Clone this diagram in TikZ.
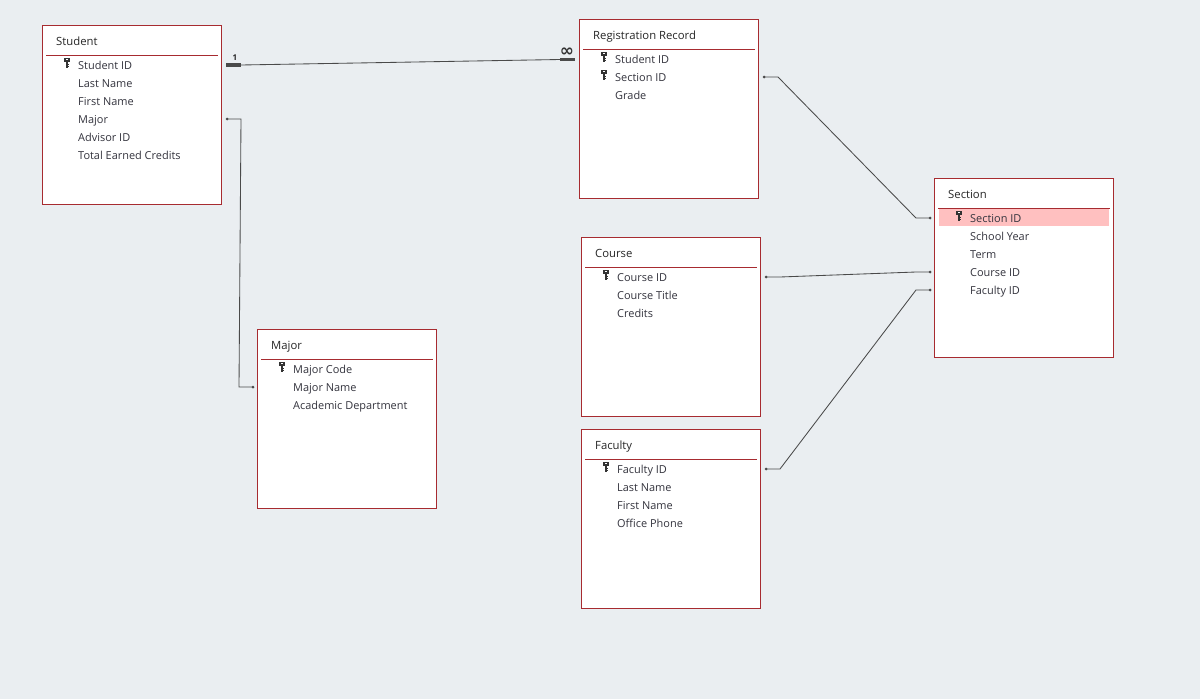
\documentclass[tikz,border=0pt]{standalone}
\usepackage{fontspec}
\setmainfont{Open Sans}
\newfontfamily\symfont{DejaVu Sans}
\definecolor{bgc}{HTML}{EAEEF1}
\definecolor{redc}{HTML}{A72B30}
\definecolor{txtc}{HTML}{33333D}
\definecolor{hilite}{HTML}{FFC0C0}
\definecolor{linec}{HTML}{4A4A4A}
\newcommand{\tablebox}[3]{% name, left x, top y
  \node[tablebody,anchor=north west] (#1) at (#2,#3) {};
}
\newcommand{\titleof}[4]{% name, x, y, text
  \node[titletext] (#1title) at (#2+13.5,#3+19.5) {#4};
  \draw[rulel] (#2+3.5,#3+30) -- (#2+175.5,#3+30);
}
\newcommand{\fieldof}[5]{% name, x, y, row, text
  \node[fieldtext] (#1) at (#2+36,#3+43.5+18*#4) {#5};
}
\newcommand{\keyof}[3]{% x, y (box), row
  \pic at (#1+25,#2+39+18*#3) {keyicon};
}
\tikzset{
  x=1pt,y=-1pt,
  tablebody/.style={draw=redc,fill=white,line width=1pt,minimum width=179pt,minimum height=179pt,inner sep=0pt,outer sep=0pt},
  titletext/.style={anchor=base west,font=\fontsize{11.3}{13}\selectfont,text=black!85,inner sep=0pt},
  fieldtext/.style={anchor=base west,font=\fontsize{10.95}{13}\selectfont,text=txtc,inner sep=0pt},
  rulel/.style={draw=redc,line width=0.9pt},
  conn/.style={draw=linec,line width=0.85pt},
  endtick/.style={fill=linec,circle,inner sep=0pt,minimum size=3pt},
  thickbar/.style={draw=linec,line width=3.4pt},
  keyicon/.pic={
    \fill[black!80] (-2.6,-6.5) rectangle (2.6,-2.5);
    \fill[black!80] (-1.1,-2.5) rectangle (1.1,3.5);
    \fill[black!80] (1.1,-1) rectangle (2.4,0);
    \fill[black!80] (1.1,1.2) rectangle (2.4,2.2);
    \fill[white] (-0.8,-5.6) rectangle (0.8,-4.6);
  },
}
\begin{document}
\begin{tikzpicture}
\useasboundingbox (0,0) rectangle (1200,699);
\fill[bgc] (0,0) rectangle (1200,699);

% Student
\tablebox{student}{42.5}{25.5}
\titleof{student}{42.5}{25.5}{Student}
\keyof{42}{25.5}{0}
\fieldof{sID}{42}{25.5}{0}{Student ID}
\fieldof{sLast}{42}{25.5}{1}{Last Name}
\fieldof{sFirst}{42}{25.5}{2}{First Name}
\fieldof{sMajor}{42}{25.5}{3}{Major}
\fieldof{sAdv}{42}{25.5}{4}{Advisor ID}
\fieldof{sTot}{42}{25.5}{5}{Total Earned Credits}

% Registration Record
\tablebox{reg}{579.5}{19.5}
\titleof{reg}{579.5}{19.5}{Registration Record}
\keyof{579}{19.5}{0}
\keyof{579}{19.5}{1}
\fieldof{rStu}{579}{19.5}{0}{Student ID}
\fieldof{rSec}{579}{19.5}{1}{Section ID}
\fieldof{rGrade}{579}{19.5}{2}{Grade}

% Section
\tablebox{section}{934.5}{178.5}
\fill[hilite] (939,209) rectangle (1109,226);
\titleof{section}{934.5}{178.5}{Section}
\keyof{934}{178.5}{0}
\fieldof{seID}{934}{178.5}{0}{Section ID}
\fieldof{seYear}{934}{178.5}{1}{School Year}
\fieldof{seTerm}{934}{178.5}{2}{Term}
\fieldof{seCourse}{934}{178.5}{3}{Course ID}
\fieldof{seFac}{934}{178.5}{4}{Faculty ID}

% Course
\tablebox{course}{581.5}{237.5}
\titleof{course}{581.5}{237.5}{Course}
\keyof{581}{237.5}{0}
\fieldof{cID}{581}{237.5}{0}{Course ID}
\fieldof{cTitle}{581}{237.5}{1}{Course Title}
\fieldof{cCred}{581}{237.5}{2}{Credits}

% Faculty
\tablebox{faculty}{581.5}{429.5}
\titleof{faculty}{581.5}{429.5}{Faculty}
\keyof{581}{429.5}{0}
\fieldof{fID}{581}{429.5}{0}{Faculty ID}
\fieldof{fLast}{581}{429.5}{1}{Last Name}
\fieldof{fFirst}{581}{429.5}{2}{First Name}
\fieldof{fPhone}{581}{429.5}{3}{Office Phone}

% Major
\tablebox{major}{257.5}{329.5}
\titleof{major}{257.5}{329.5}{Major}
\keyof{257}{329.5}{0}
\fieldof{mCode}{257}{329.5}{0}{Major Code}
\fieldof{mName}{257}{329.5}{1}{Major Name}
\fieldof{mDept}{257}{329.5}{2}{Academic Department}

% Connector end points
\coordinate (a1) at (226,65);
\coordinate (a2) at (241,65);
\coordinate (b2) at (560,59.5);
\coordinate (b1) at (575,59.5);
\coordinate (c1) at (227,119);
\coordinate (c2) at (241,119);
\coordinate (d2) at (239,387);
\coordinate (d1) at (253,387);
\coordinate (e1) at (764,77);
\coordinate (e2) at (778,77);
\coordinate (f2) at (916,218);
\coordinate (f1) at (930,218);
\coordinate (g1) at (766,277);
\coordinate (g2) at (780,277);
\coordinate (h2) at (916,272);
\coordinate (h1) at (930,272);
\coordinate (i1) at (766,469);
\coordinate (i2) at (780,469);
\coordinate (j2) at (916,290);
\coordinate (j1) at (930,290);

% Connectors
\draw[conn] (a2) -- (b2);
\draw[thickbar] (a1) -- (a2);
\draw[thickbar] (b2) -- (b1);
\node[font=\fontsize{8}{9}\selectfont\bfseries,text=black!85,inner sep=0pt] (one) at (235,58) {1};
\node[font=\symfont\fontsize{17}{17}\selectfont\bfseries,text=black!80,inner sep=0pt] (many) at (567,52) {∞};
\draw[conn] (c1) -- (c2) -- (d2) -- (d1);
\draw[conn] (e1) -- (e2) -- (f2) -- (f1);
\draw[conn] (g1) -- (g2) -- (h2) -- (h1);
\draw[conn] (i1) -- (i2) -- (j2) -- (j1);
\foreach \p in {c1,d1,e1,f1,g1,h1,i1,j1} \node[endtick] at (\p) {};
\end{tikzpicture}
\end{document}
